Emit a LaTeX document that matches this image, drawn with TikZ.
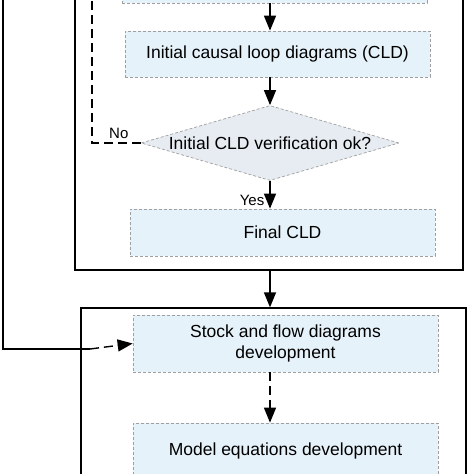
\documentclass[tikz,border=0pt]{standalone}
\usepackage{fontspec}
\setmainfont{Liberation Sans}
\usetikzlibrary{arrows.meta,shapes.geometric}
\tikzset{
  stepbox/.style={draw=gray!75, densely dashed, line width=0.7pt, fill=cldblue,
    minimum width=305pt, inner sep=0pt, align=center, font=\fontsize{17.5}{21}\selectfont},
  checkbox/.style={diamond, draw=gray!75, densely dashed, line width=0.7pt, fill=cldgray,
    minimum width=258pt, minimum height=75pt, aspect=3.4, inner sep=0pt,
    font=\fontsize{17.5}{21}\selectfont},
  group/.style={draw=black, line width=1.3pt, inner sep=0pt},
  flow/.style={line width=1.4pt, -{Triangle[length=15pt,width=12pt]}},
  flowdash/.style={flow, dash pattern=on 9pt off 5pt},
  lbl/.style={font=\fontsize{15}{18}\selectfont, inner sep=1pt}
}
\definecolor{cldblue}{HTML}{E6F2F9}
\definecolor{cldgray}{HTML}{E7ECF2}
\begin{document}
\begin{tikzpicture}[x=1pt,y=-1pt]
  \useasboundingbox (0,0) rectangle (474,474);
  \clip (0,0) rectangle (474,474);
  % containers
  \node[group, minimum width=388pt, minimum height=330pt] (grp1) at (269,105) {};
  \node[group, minimum width=385pt, minimum height=212pt] (grp2) at (273.5,414) {};
  % steps
  \node[stepbox, minimum height=46pt] (prev) at (274.5,-20) {};
  \node[stepbox, minimum height=46pt] (cld) at (277.5,54) {Initial causal loop diagrams (CLD)};
  \node[checkbox] (check) at (270,143) {Initial CLD verification ok?};
  \node[stepbox, minimum height=47pt] (final) at (282.5,232.5) {Final CLD};
  \node[stepbox, minimum height=57pt] (sfd) at (285.5,343.5) {Stock and flow diagrams\\development};
  \node[stepbox, minimum height=56pt] (meq) at (285.5,451) {Model equations development};
  \coordinate (axis) at (270,0);
  \coordinate (up) at (92,-10);
  \coordinate (back) at (3,-10);
  \coordinate (backin) at (90,349);
  % connectors
  \begin{scope}
    \draw[flow] (prev.south -| axis) to (cld.north -| axis);
    \draw[flow] (cld.south -| axis) to (check.north);
    \draw[flow] (check.south) to node[lbl, pos=0.7, left=4pt] {Yes} (final.north -| axis);
    \draw[flow] (grp1.south -| axis) to (grp2.north -| axis);
    \draw[flowdash] (sfd.south -| axis) to (meq.north -| axis);
    \draw[line width=1.4pt, dash pattern=on 9pt off 5pt] (check.west) to node[lbl, pos=0.45, above=3pt] {No} (check.west -| up) to (up);
    \draw[line width=1.3pt] (back) |- (backin);
    \draw[flowdash] (backin) to (sfd.west);
  \end{scope}
\end{tikzpicture}
\end{document}
